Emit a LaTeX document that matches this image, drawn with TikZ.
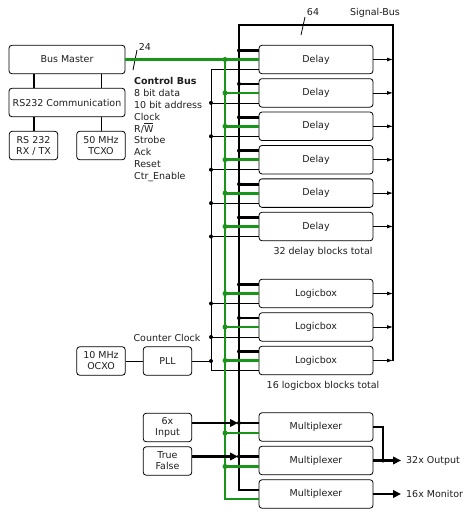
\documentclass[tikz,border=0pt]{standalone}
\usepackage{fontspec}
\setmainfont{DejaVu Sans}
\usetikzlibrary{arrows.meta}
\definecolor{busgreen}{RGB}{25,150,25}
\definecolor{txt}{RGB}{30,30,30}
\begin{document}
\begin{tikzpicture}[x=1pt,y=-1pt,
  box/.style={draw, rounded corners=3pt, line width=0.8pt, minimum height=28.5pt, inner sep=0pt, align=center, text=txt, font=\fontsize{9.5}{11}\selectfont},
  blk/.style={box, minimum width=114pt},
  small/.style={box, minimum width=48.5pt},
  bus/.style={line width=2.8pt},
  gbus/.style={line width=2.8pt, busgreen},
  thin/.style={line width=0.8pt},
  dot/.style={circle, fill, inner sep=0pt, minimum size=4pt},
  gdot/.style={dot, busgreen, minimum size=5pt},
  lbl/.style={font=\fontsize{9.5}{11}\selectfont, inner sep=0pt, text=txt},
  tip/.style={-{Latex[length=6pt,width=4pt]}},
  btip/.style={-{Triangle[length=8pt,width=7.5pt]}},
]
\useasboundingbox (0,0) rectangle (474,519);
% reference coordinates
\coordinate (tx) at (211,0);
\coordinate (gx) at (225,0);
\coordinate (bl) at (239,25);
\coordinate (br) at (393,25);
\coordinate (ox) at (383,0);
\coordinate (ax) at (401,0);

% left boxes
\node[box, minimum width=116pt] (bm) at (67,59.5) {Bus Master};
\node[box, minimum width=116pt] (rs) at (67,102.5) {RS232 Communication};
\node[small] (rx) at (33.5,145.5) {RS 232\\RX / TX};
\node[small] (tc) at (101,145.5) {50 MHz\\TCXO};
\node[small] (oc) at (101,361) {10 MHz\\OCXO};
\node[small] (pll) at (167.5,361) {PLL};
\node[small] (inp) at (167.5,427.5) {6x\\Input};
\node[small] (tf) at (167.5,461) {True\\False};

% right blocks
\foreach \i/\y in {1/59.5,2/92.9,3/126.3,4/159.7,5/193.1,6/226.5}
  \node[blk] (d\i) at (316,\y) {Delay};
\foreach \i/\y in {1/293.5,2/327,3/360.5}
  \node[blk] (l\i) at (316,\y) {Logicbox};
\foreach \i/\y in {1/427,2/460.5,3/494}
  \node[blk] (m\i) at (316,\y) {Multiplexer};

% labels
\node[lbl] (sb) at (375,13) {Signal-Bus};
\node[lbl] (n64) at (313,12) {64};
\node[lbl] (n24) at (145,47) {24};
\node[lbl] (dtot) at (323,252) {32 delay blocks total};
\node[lbl] (ltot) at (323,386) {16 logicbox blocks total};
\node[lbl] (cc) at (167,338) {Counter Clock};
\node[lbl, anchor=north west, align=left, font=\fontsize{9.5}{11.9}\selectfont] (cb) at (134,77)
  {\textbf{Control Bus}\\8 bit data\\10 bit address\\Clock\\R/$\overline{\hbox{W}}$\\Strobe\\Ack\\Reset\\Ctr\_Enable};
\node[lbl, anchor=west] (o32) at (406,460.5) {32x Output};
\node[lbl, anchor=west] (o16) at (406,494) {16x Monitor};

% left box links
\draw[bus] (bm.south -| 34,0) -- (rs.north -| 34,0);
\draw[thin] (bm.south -| tc) -- (rs.north -| tc);
\draw[bus] (rs.south -| 34,0) -- (rx.north -| 34,0);
\draw[thin] (rs.south -| tc) -- (tc.north);
\draw[thin] (oc) -- (pll);

% slashes
\draw[thin] (137,50) -- (133,70);
\draw[thin] (305,17) -- (301,35);

% thin control lines
\draw[thin] ([yshift=-10pt]d1.west) -| ([yshift=-10pt]l3.west -| tx) -- ([yshift=-10pt]l3.west);
\foreach \b in {d2,d3,d4,d5,d6,l1,l2} {
  \draw[thin] ([yshift=-10pt]\b.west -| tx) -- ([yshift=-10pt]\b.west);
  \node[dot] at ([yshift=-10pt]\b.west -| tx) {};
}
\draw[thin] (pll.east) -- (pll.east -| tx);
\node[dot] at (pll.east -| tx) {};

% black signal bus
\draw[bus] ([yshift=4pt]m3.west) -| (bl) -- (br) -- (br |- l3.east);
\foreach \b in {d1,d2,d3,d4,d5,d6,l1,l2,l3} {
  \draw[bus] ([yshift=9pt]\b.west -| bl) -- ([yshift=9pt]\b.west);
  \node[dot] at ([yshift=9pt]\b.west -| bl) {};
  \draw[thin,tip] (\b.east) -- (\b.east -| br);
}

% green control bus
\draw[gbus] (bm.east) -- (d1.west);
\draw[gbus] (bm.east -| gx) -- ([yshift=-5pt]m3.west -| gx) -- ([yshift=-5pt]m3.west);
\node[gdot] at (bm.east -| gx) {};
\foreach \b in {d2,d3,d4,d5,d6,l1,l2,l3} {
  \draw[gbus] (\b.west -| gx) -- (\b.west);
  \node[gdot] at (\b.west -| gx) {};
}
\foreach \b in {m1,m2} {
  \draw[gbus] ([yshift=-6pt]\b.west -| gx) -- ([yshift=-6pt]\b.west);
  \node[gdot] at ([yshift=-6pt]\b.west -| gx) {};
}

% multiplexer inputs
\draw[bus,btip] ([yshift=4pt]m1.west -| inp.east) -- ([yshift=4pt,xshift=-1pt]m1.west -| bl);
\draw[bus] ([yshift=4pt]m1.west -| bl) -- ([yshift=4pt]m1.west);
\node[dot] at ([yshift=4pt]m1.west -| bl) {};
\draw[bus,btip] ([yshift=4pt]m2.west -| tf.east) -- ([yshift=4pt,xshift=-1pt]m2.west -| bl);
\draw[bus] ([yshift=4pt]m2.west -| bl) -- ([yshift=4pt]m2.west);
\node[dot] at ([yshift=4pt]m2.west -| bl) {};

% multiplexer outputs
\draw[bus] (m1.east) -| (m2.east -| ox);
\draw[bus,btip] (m2.east) -- (m2.east -| ax);
\node[dot] at (m2.east -| ox) {};
\draw[bus,btip] (m3.east) -- (m3.east -| ax);
\end{tikzpicture}
\end{document}
